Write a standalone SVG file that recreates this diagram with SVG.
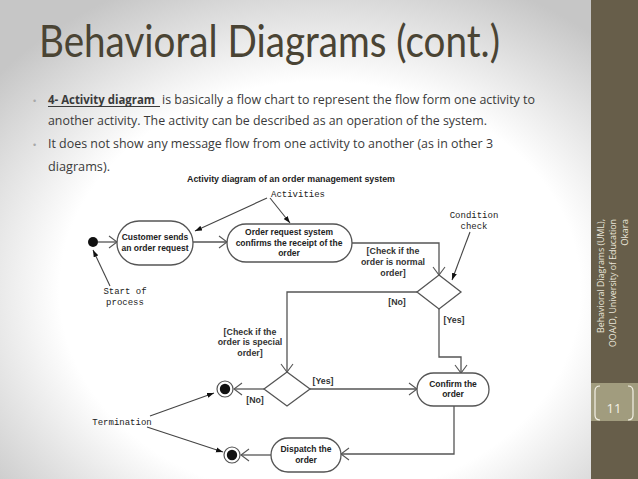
<svg xmlns="http://www.w3.org/2000/svg" width="638" height="479" viewBox="0 0 638 479">
<defs>
<radialGradient id="bg" gradientUnits="userSpaceOnUse" cx="320" cy="290" r="420" gradientTransform="translate(320 290) scale(1 0.8) translate(-320 -290)">
<stop offset="0.62" stop-color="#ffffff"/>
<stop offset="1" stop-color="#c6c6c6"/>
</radialGradient>
<marker id="open" markerUnits="userSpaceOnUse" markerWidth="12" markerHeight="14" viewBox="-1 -7 10 14" refX="8" refY="0" orient="auto">
<path d="M0,-6 L8,0 L0,6" fill="none" stroke="#555" stroke-width="1.1"/>
</marker>
<marker id="fill" markerUnits="userSpaceOnUse" markerWidth="7" markerHeight="6" viewBox="0 -3 7 6" refX="7" refY="0" orient="auto">
<path d="M0,-2.5 L7,0 L0,2.5 Z" fill="#111"/>
</marker>
</defs>
<style>
.flow{fill:none;stroke:#555;stroke-width:1.3;marker-end:url(#open)}
.ann{fill:none;stroke:#444;stroke-width:1.1;marker-end:url(#fill)}
.act{fill:#fff;stroke:#555;stroke-width:1.3}
.dec{fill:#fff;stroke:#555;stroke-width:1.3}
.nt{font-family:"Liberation Sans",Arial,sans-serif;font-weight:bold;font-size:8.5px;fill:#222;text-anchor:middle}
.gd{font-family:"Liberation Sans",Arial,sans-serif;font-weight:bold;font-size:8.8px;fill:#333;text-anchor:middle}
.mono{font-family:"Liberation Mono","Courier New",monospace;font-size:9px;fill:#222;text-anchor:middle}
.body{font-family:"Open Sans","Noto Sans",sans-serif;font-size:12px;fill:#3a3a3a}
.side{font-family:"Open Sans","Noto Sans",sans-serif;font-size:9.5px;fill:#ebe7da;text-anchor:end}
</style>
<rect x="0" y="0" width="638" height="479" fill="url(#bg)"/>
<!-- sidebar -->
<g id="sidebar">
<rect x="591" y="0" width="47" height="479" fill="#675e4a"/>
<rect x="591" y="383" width="47" height="38" fill="#a19c7e"/>
<path d="M600,386 Q595,386 595,391 L595,415 Q595,420 600,420" fill="none" stroke="#f4f1e6" stroke-width="1.2"/>
<path d="M628,386 Q633,386 633,391 L633,415 Q633,420 628,420" fill="none" stroke="#f4f1e6" stroke-width="1.2"/>
<text x="614" y="413" font-family="'Open Sans','Noto Sans',sans-serif" font-size="13" fill="#f4f1e6" text-anchor="middle">11</text>
<text class="side" transform="translate(604,219) rotate(-90)" textLength="114" lengthAdjust="spacingAndGlyphs">Behavioral Diagrams (UML),</text>
<text class="side" transform="translate(616,219) rotate(-90)" textLength="128" lengthAdjust="spacingAndGlyphs">OOA/D, University of Education</text>
<text class="side" transform="translate(628,219) rotate(-90)">Okara</text>
</g>
<!-- title -->
<text x="39" y="57" font-family="Lato,'Open Sans',sans-serif" font-size="45" fill="#4a4434" textLength="461" lengthAdjust="spacingAndGlyphs">Behavioral Diagrams (cont.)</text>
<!-- bullets -->
<g id="bullets">
<text x="33" y="104" font-family="'Liberation Sans',sans-serif" font-size="9" fill="#a8a8a8">•</text>
<text x="33" y="148" font-family="'Liberation Sans',sans-serif" font-size="9" fill="#a8a8a8">•</text>
<text class="body" x="48" y="104" font-weight="bold" textLength="107" lengthAdjust="spacingAndGlyphs">4- Activity diagram</text>
<line x1="48" y1="106.5" x2="160" y2="106.5" stroke="#3a3a3a" stroke-width="1"/>
<text class="body" x="162" y="104" textLength="373" lengthAdjust="spacingAndGlyphs">is basically a flow chart to represent the flow form one activity to</text>
<text class="body" x="48" y="125" textLength="439" lengthAdjust="spacingAndGlyphs">another activity. The activity can be described as an operation of the system.</text>
<text class="body" x="48" y="148" textLength="445" lengthAdjust="spacingAndGlyphs">It does not show any message flow from one activity to another (as in other 3</text>
<text class="body" x="48" y="171" textLength="62" lengthAdjust="spacingAndGlyphs">diagrams).</text>
</g>
<!-- diagram title -->
<text x="291" y="182" font-family="'Liberation Sans',Arial,sans-serif" font-weight="bold" font-size="8.2" fill="#222" text-anchor="middle" textLength="208" lengthAdjust="spacingAndGlyphs">Activity diagram of an order management system</text>
<!-- connectors -->
<g id="connectors">
<path class="flow" d="M98,242 L117,242"/>
<path class="flow" d="M193,242 L227,242"/>
<path class="flow" d="M352,243 L439,243 L439,275"/>
<path class="flow" d="M417,292 L287,292 L287,372"/>
<path class="flow" d="M439,309 L439,357 L461,357 L461,373"/>
<path class="flow" d="M310,389 L417,389"/>
<path class="flow" d="M264,389 L234,389"/>
<path class="flow" d="M454,406 L454,454 L341,454"/>
<path class="flow" d="M271,455 L241,455"/>
<path class="ann" d="M267,198 L195,231"/>
<path class="ann" d="M270,198 L290,223"/>
<path class="ann" d="M470,232 L452,280"/>
<path class="ann" d="M110,286 L93,250"/>
<path class="ann" d="M150,416 L214,393"/>
<path class="ann" d="M147,427 L223,452"/>
</g>
<!-- nodes -->
<g id="start"><circle cx="93" cy="242" r="5" fill="#111"/></g>
<g id="customer">
<rect class="act" x="117" y="221" width="76" height="44" rx="22"/>
<text class="nt" x="155" y="240">Customer sends</text>
<text class="nt" x="155" y="251">an order request</text>
</g>
<g id="orderreq">
<rect class="act" x="227" y="224" width="125" height="38" rx="19"/>
<text class="nt" x="289" y="235">Order request system</text>
<text class="nt" x="289" y="246">confirms the receipt of the</text>
<text class="nt" x="289" y="256">order</text>
</g>
<g id="decision1"><path class="dec" d="M439,275 L461,292 L439,309 L417,292 Z"/></g>
<g id="decision2"><path class="dec" d="M287,372 L310,389 L287,406 L264,389 Z"/></g>
<g id="confirm">
<rect class="act" x="417" y="373" width="72" height="33" rx="16.5"/>
<text class="nt" x="453" y="387">Confirm the</text>
<text class="nt" x="453" y="397">order</text>
</g>
<g id="dispatch">
<rect class="act" x="271" y="438" width="70" height="34" rx="17"/>
<text class="nt" x="306" y="452">Dispatch the</text>
<text class="nt" x="306" y="463">order</text>
</g>
<g id="final1">
<circle cx="225" cy="389" r="8" fill="#fff" stroke="#555" stroke-width="1.2"/>
<circle cx="225" cy="389" r="5.2" fill="#111"/>
</g>
<g id="final2">
<circle cx="232" cy="455" r="8" fill="#fff" stroke="#555" stroke-width="1.2"/>
<circle cx="232" cy="455" r="5.2" fill="#111"/>
</g>
<!-- labels -->
<g id="labels">
<text class="mono" x="298" y="197">Activities</text>
<text class="mono" x="474" y="218">Condition</text>
<text class="mono" x="474" y="229">check</text>
<text class="mono" x="125" y="294">Start of</text>
<text class="mono" x="125" y="305">process</text>
<text class="mono" x="122" y="425">Termination</text>
<text class="gd" x="393" y="254">[Check if the</text>
<text class="gd" x="393" y="265">order is normal</text>
<text class="gd" x="393" y="276">order]</text>
<text class="gd" x="397" y="305">[No]</text>
<text class="gd" x="454" y="323">[Yes]</text>
<text class="gd" x="250" y="335">[Check if the</text>
<text class="gd" x="250" y="345">order is special</text>
<text class="gd" x="250" y="356">order]</text>
<text class="gd" x="323" y="384">[Yes]</text>
<text class="gd" x="255" y="403">[No]</text>
</g>
</svg>
